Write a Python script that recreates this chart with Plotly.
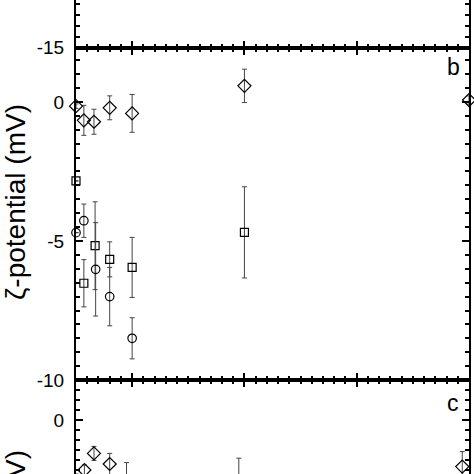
import plotly.graph_objects as go

# ---------------- data ----------------
# panel b
xb_diamond = [0, 0.7, 1.6, 3, 5, 15, 35]
yb_diamond = [-0.15, -0.66, -0.71, -0.21, -0.41, 0.58, 0.07]
eb_diamond = [0.08, 0.54, 0.45, 0.43, 0.68, 0.60, 0.15]

xb_square = [0, 0.7, 1.7, 3, 5, 15]
yb_square = [-2.84, -6.52, -5.17, -5.66, -5.95, -4.69]
eb_square = [0, 0.85, 1.58, 0.63, 1.08, 1.64]

xb_circle = [0, 0.7, 1.75, 3, 5]
yb_circle = [-4.70, -4.27, -6.02, -7.00, -8.50]
eb_circle = [0, 0.60, 1.68, 1.05, 0.74]

# panel c
xc_diamond = [0, 0.75, 1.6, 3, 4.5, 14.5, 34.4]
yc_diamond = [-2.9, -2.5, -1.67, -2.2, -3.2, -2.83, -2.33]
ec_diamond = [0.2, 0.25, 0.35, 0.53, 1.07, 0.92, 0.75]

# tick labels
top_tickvals = [-15]
top_ticktext = ["-15"]
b_tickvals = [-10, -5, 0]
b_ticktext = ["-10", "-5", "0"]
c_tickvals = [0]
c_ticktext = ["0"]

title_text = "ζ-potential (mV)"
panel_labels = ["b", "c"]

# ---------------- figure ----------------
FONT = "Liberation Sans, Arial, sans-serif"
W = H = 474
ML, MR = 76, 5
dom_c = [0, 94 / 474]
dom_b = [94 / 474, 426.5 / 474]
dom_top = [426.5 / 474, 1]

fig = go.Figure()

err_style = dict(type="data", visible=True, thickness=1, width=2.5, color="#444")


def add(x, y, e, symbol, size, xa, ya):
    fig.add_trace(go.Scatter(
        x=x, y=y, mode="markers", xaxis=xa, yaxis=ya,
        marker=dict(symbol=symbol, size=size, color="black",
                    line=dict(color="black", width=1.2)),
        error_y=dict(array=e, **err_style),
        cliponaxis=False, showlegend=False, hoverinfo="skip",
    ))


# empty trace for top panel
fig.add_trace(go.Scatter(x=[], y=[], xaxis="x", yaxis="y", showlegend=False))

add(xb_square, yb_square, eb_square, "square-open", 8, "x2", "y2")
add(xb_circle, yb_circle, eb_circle, "circle-open", 8.5, "x2", "y2")
add(xb_diamond, yb_diamond, eb_diamond, "diamond-open", 10, "x2", "y2")
add(xc_diamond, yc_diamond, ec_diamond, "diamond-open", 10, "x3", "y3")

XR = [0, 35]
xcommon = dict(range=XR, domain=[0, 1], showgrid=False, zeroline=False,
               showline=True, linecolor="black", linewidth=2,
               ticks="inside", ticklen=7, tickwidth=2, tickcolor="black",
               tickmode="linear", tick0=5, dtick=10, showticklabels=False,
               minor=dict(ticks="inside", ticklen=4, tickwidth=1.5,
                          tickcolor="black", tickmode="linear", tick0=0, dtick=1))

ycommon = dict(showgrid=False, zeroline=False, showline=True, linecolor="black",
               linewidth=2, ticks="inside", ticklen=7, tickwidth=1.5,
               tickcolor="black", mirror="ticks", tickmode="array",
               tickfont=dict(family=FONT, size=19, color="black"),
               ticklabelstandoff=6, automargin=False,
               minor=dict(ticks="inside", ticklen=4, tickwidth=1.5,
                          tickcolor="black", tickmode="linear", tick0=0, dtick=0.5))

fig.update_layout(
    width=W, height=H, autosize=False,
    margin=dict(l=ML, r=MR, t=0, b=0, pad=0, autoexpand=False),
    paper_bgcolor="white", plot_bgcolor="white",
    xaxis=dict(anchor="y", side="bottom", mirror=False, automargin=False, **xcommon),
    xaxis2=dict(anchor="y2", side="bottom", mirror="ticks", automargin=False, **xcommon),
    xaxis3=dict(anchor="y3", side="top", mirror=False, automargin=False, **xcommon),
    yaxis=dict(anchor="x", domain=dom_top, range=[-15, -12.8],
               tickvals=top_tickvals, ticktext=top_ticktext, **ycommon),
    yaxis2=dict(anchor="x2", domain=dom_b, range=[-10, 1.96],
                tickvals=b_tickvals, ticktext=b_ticktext, **ycommon),
    yaxis3=dict(anchor="x3", domain=dom_c, range=[-2.7, 2],
                tickvals=c_tickvals, ticktext=c_ticktext, **ycommon),
)

plot_w = W - ML - MR
def px_to_paper_x(px):
    return (px - ML) / plot_w

def px_to_paper_y(py):
    return (H - py) / H

ann = []
# y titles
for yc in [202, 548]:
    ann.append(dict(text=title_text, x=px_to_paper_x(15), y=px_to_paper_y(yc),
                    xref="paper", yref="paper", xanchor="center", yanchor="middle",
                    textangle=-90, showarrow=False,
                    font=dict(family=FONT, size=28, color="black")))
# panel labels
for lab, (lx, ly) in zip(panel_labels, [(453, 67), (453, 403)]):
    ann.append(dict(text=lab, x=px_to_paper_x(lx), y=px_to_paper_y(ly),
                    xref="paper", yref="paper", xanchor="center", yanchor="middle",
                    showarrow=False, font=dict(family=FONT, size=23, color="black")))
fig.update_layout(annotations=ann)

fig.write_html("out.html", config={"displayModeBar": False},
               post_script="document.body.style.margin='0';document.body.style.overflow='hidden';")
